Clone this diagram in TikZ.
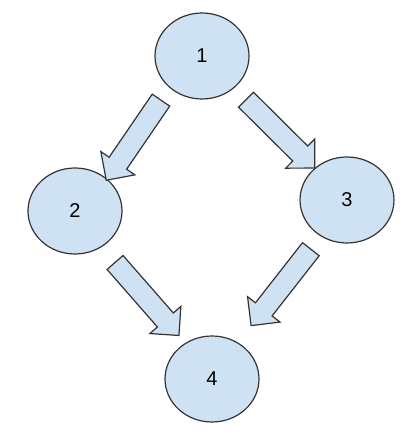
\documentclass[tikz,border=0pt]{standalone}
\usepackage{fontspec}
\setmainfont{Liberation Sans}
\usetikzlibrary{shapes.geometric,shapes.arrows,calc}

\definecolor{bubblefill}{HTML}{CFE2F3}
\definecolor{bubbleline}{HTML}{333333}

\tikzset{
  bubble/.style={ellipse, draw=bubbleline, fill=bubblefill, line width=0.6pt,
    minimum width=47pt, minimum height=43pt, inner sep=0pt,
    font=\fontsize{10}{12}\selectfont},
  blockarrow/.style={single arrow, draw=bubbleline, fill=bubblefill, line width=0.6pt,
    minimum height=48.5pt, inner xsep=0pt, inner ysep=5pt,
    single arrow head extend=5pt}
}

\begin{document}
\begin{tikzpicture}[x=0.5pt, y=0.5pt]  % 1 单位 = 参考图 1 像素

    \useasboundingbox (0,0) rectangle (419,444);

    % 绘制四个椭圆节点
    \node[bubble] (n1) at (202,388) {1};
    \node[bubble] (n2) at (75,233) {2};
    \node[bubble] (n3) at (347,244) {3};
    \node[bubble] (n4) at (212,65) {4};

    % 绘制块状箭头, 放在两节点连线上 (\t 位置, \d 角度微调)
    \foreach \a/\b/\t/\d in {n1/n2/0.515/5, n1/n3/0.515/0, n2/n4/0.5/2, n3/n4/0.465/-1}
        \path let \p1=($(\b)-(\a)$), \n1={atan2(\y1,\x1)+\d} in
            node[blockarrow, rotate=\n1] at ($(\a)!\t!(\b)$) {};

\end{tikzpicture}
\end{document}
